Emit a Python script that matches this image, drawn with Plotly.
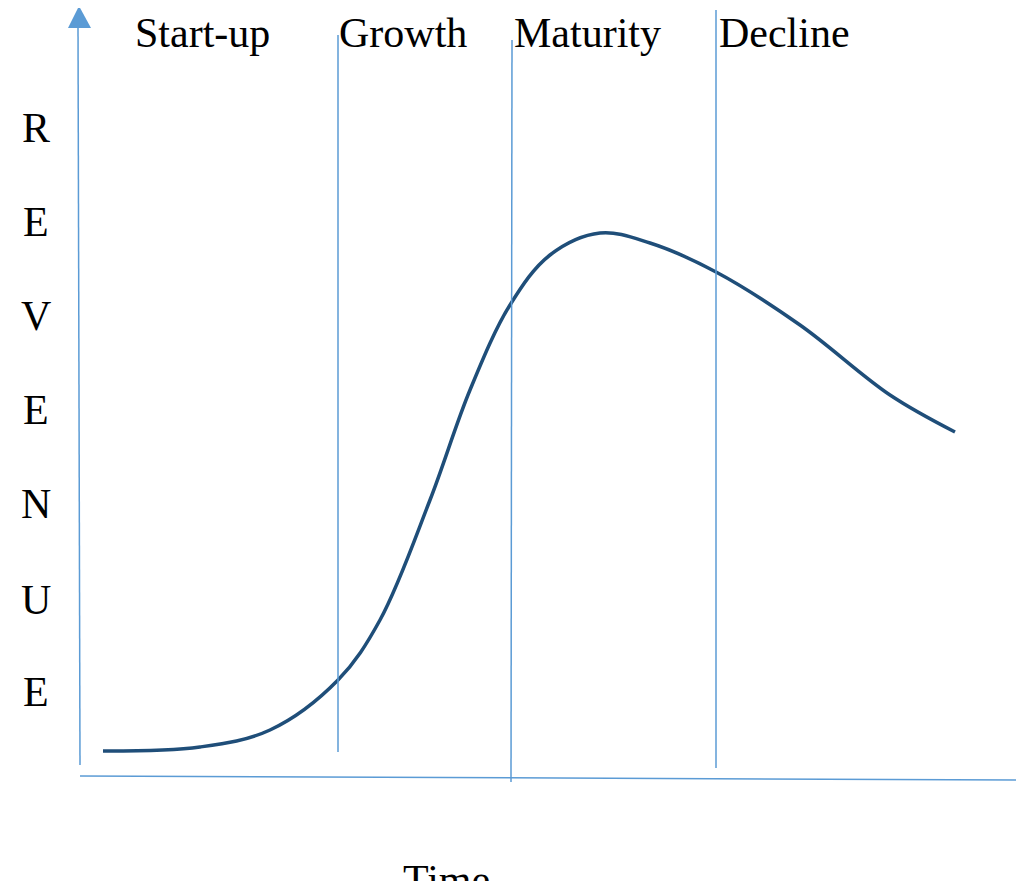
import plotly.graph_objects as go

curve_x = [103, 200, 270, 338, 380, 430, 470, 510, 550, 600, 650, 716, 800, 890, 955]
curve_y = [751, 747, 730, 680, 620, 500, 390, 305, 255, 233, 243, 272, 325, 395, 432]
phase_labels = ["Start-up", "Growth", "Maturity", "Decline"]
phase_label_x = [202, 403, 587, 784]
phase_lines = [(338, 35, 338, 752), (512, 40, 511, 782), (716, 10, 716, 768)]
ylabel_letters = list("REVENUE")
ylabel_y = [128, 222, 316, 410, 504, 600, 692]

fig = go.Figure()
fig.add_trace(go.Scatter(x=curve_x, y=curve_y, mode="lines",
                         line=dict(color="#1f4e79", width=3.5, shape="spline", smoothing=1.0),
                         hoverinfo="skip"))
axc = "#5b9bd5"
shapes = [
    dict(type="line", x0=80, y0=765, x1=78, y1=25, line=dict(color=axc, width=1.5)),
    dict(type="line", x0=80, y0=776, x1=1024, y1=780, line=dict(color=axc, width=1.5)),
    dict(type="path", path="M 68 28 L 79 6 L 91 28 Z", fillcolor=axc, line=dict(color=axc, width=0)),
]
for x0, y0, x1, y1 in phase_lines:
    shapes.append(dict(type="line", x0=x0, y0=y0, x1=x1, y1=y1, line=dict(color=axc, width=1.5)))
ann = []
font = dict(family="Liberation Serif", size=42, color="black")
for t, x in zip(phase_labels, phase_label_x):
    ann.append(dict(x=x, y=33, text=t, showarrow=False, font=font, xanchor="center", yanchor="middle"))
for t, y in zip(ylabel_letters, ylabel_y):
    ann.append(dict(x=36, y=y, text=t, showarrow=False, font=font, xanchor="center", yanchor="middle"))
ann.append(dict(x=446, y=880, text="Time", showarrow=False, font=font, xanchor="center", yanchor="middle"))
for s in shapes:
    s.update(xref="x", yref="y")
fig.update_layout(width=1024, height=881, margin=dict(l=0, r=0, t=0, b=0),
                  paper_bgcolor="white", plot_bgcolor="white", showlegend=False,
                  shapes=shapes, annotations=ann,
                  xaxis=dict(range=[8, 1032], visible=False, fixedrange=True),
                  yaxis=dict(range=[889, 8], visible=False, fixedrange=True))
fig.write_html("out.html")
